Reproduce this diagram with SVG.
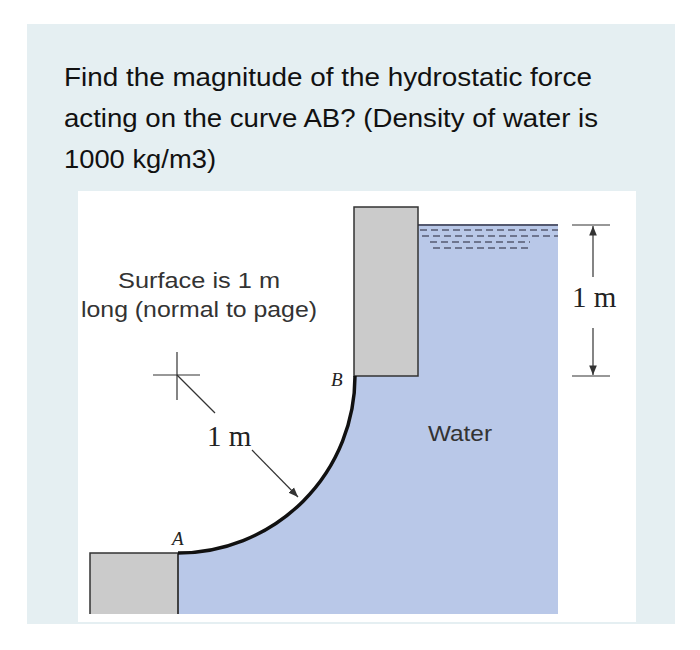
<svg xmlns="http://www.w3.org/2000/svg" width="700" height="650" viewBox="0 0 700 650">
<style>
.q{font-family:"Liberation Sans",Arial,sans-serif;font-size:26px;fill:#111}
.l{font-family:"Liberation Sans",Arial,sans-serif;font-size:22px;fill:#333}
.t{font-family:"Liberation Serif","Times New Roman",serif;fill:#222}
.g{fill:#cbcbcb;stroke:#333;stroke-width:1.5}
.ln{stroke:#333;stroke-width:1.2;fill:none}
.d{stroke:#555a70;stroke-width:1.5;stroke-dasharray:7 4}
</style>
<defs><marker id="ar" viewBox="0 0 10 10" refX="10" refY="5" markerWidth="8" markerHeight="8" orient="auto-start-reverse"><path d="M0,1 L10,5 L0,9 Z" fill="#333"/></marker></defs>
<rect width="700" height="650" fill="#ffffff"/>
<rect x="27" y="24" width="648" height="600" fill="#e5eff2"/>
<text class="q" x="64" y="86" textLength="528" lengthAdjust="spacingAndGlyphs">Find the magnitude of the hydrostatic force</text>
<text class="q" x="64" y="127" textLength="534" lengthAdjust="spacingAndGlyphs">acting on the curve AB? (Density of water is</text>
<text class="q" x="64" y="168" textLength="152" lengthAdjust="spacingAndGlyphs">1000 kg/m3)</text>
<rect x="78" y="191" width="558" height="431" fill="#fff"/>
<g id="water"><path d="M418,225 L558,225 L558,614 L178,614 L178,553 A177,177 0 0 0 355,376 L418,376 Z" fill="#b9c8e8"/>
<line x1="418" y1="225" x2="558" y2="225" stroke="#555a70" stroke-width="2"/>
<line class="d" x1="420" y1="230" x2="558" y2="230"/>
<line class="d" x1="422" y1="236" x2="558" y2="236"/>
<line class="d" x1="430" y1="242" x2="530" y2="242"/>
<line class="d" x1="433" y1="248" x2="530" y2="248" stroke-dasharray="7 20"/>
<text class="l" x="428" y="441" textLength="64" lengthAdjust="spacingAndGlyphs">Water</text></g>
<g id="gate"><rect class="g" x="354" y="207" width="64" height="169"/></g>
<g id="base"><path class="g" d="M90,614 L90,553 L178,553 L178,614"/><line class="ln" x1="178" y1="553" x2="178" y2="614"/></g>
<g id="curve"><path d="M178,553 A177,177 0 0 0 355,376" fill="none" stroke="#111" stroke-width="3.5"/>
<text class="t" x="172" y="545" font-size="19" font-style="italic">A</text>
<text class="t" x="331" y="386" font-size="19" font-style="italic">B</text></g>
<g id="center"><line class="ln" x1="153" y1="375" x2="200" y2="375"/><line class="ln" x1="177" y1="352" x2="177" y2="400"/></g>
<g id="connectors">
<line class="ln" x1="177" y1="375" x2="215" y2="413"/>
<line class="ln" x1="252" y1="450" x2="298" y2="497" marker-end="url(#ar)"/>
<line class="ln" x1="572" y1="225" x2="610" y2="225"/>
<line class="ln" x1="572" y1="376" x2="610" y2="376"/>
<line class="ln" x1="593" y1="277" x2="593" y2="226" marker-end="url(#ar)"/>
<line class="ln" x1="593" y1="328" x2="593" y2="375" marker-end="url(#ar)"/>
</g>
<text class="t" x="207" y="446" font-size="29">1 m</text>
<text class="t" x="572" y="307" font-size="29">1 m</text>
<text class="l" x="118" y="288" textLength="162" lengthAdjust="spacingAndGlyphs">Surface is 1 m</text>
<text class="l" x="81" y="317" textLength="236" lengthAdjust="spacingAndGlyphs">long (normal to page)</text>
</svg>
